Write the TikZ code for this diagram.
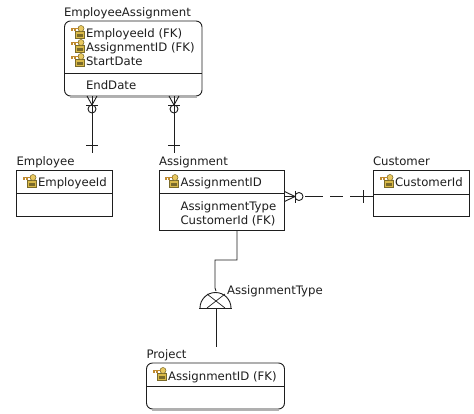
\documentclass[tikz,border=0pt]{standalone}
\usepackage{fontspec}
\setmainfont{DejaVu Sans}
\usetikzlibrary{calc}
\definecolor{ink}{HTML}{1E1E1E}
\definecolor{keygold}{HTML}{D9B948}
\definecolor{keydark}{HTML}{7A6A2A}
\definecolor{keylight}{HTML}{E8C860}
\definecolor{keyred}{HTML}{C08A30}
\tikzset{
  x=1pt,y=-1pt,
  every node/.style={font=\fontsize{11.7}{13}\selectfont,text=ink,inner sep=0pt,outer sep=0pt},
  line/.style={draw=ink,line width=0.9pt},
  entity/.style={line,anchor=north west},
  square/.style={entity},
  round/.style={entity,rounded corners=6pt},
  title/.style={anchor=base west},
  attr/.style={anchor=base west},
  keyicon/.pic={
    \fill[keygold,draw=keydark,line width=0.5pt] (-3,0) rectangle (6,7);
    \fill[keydark] (-1,2.5) rectangle (4.5,5);
    \draw[keydark,line width=0.5pt,fill=keylight] (3,-3) circle (3);
    \draw[keyred,line width=1.8pt] (0.5,-3) -- (-6,-3) -- (-6,-0.5) (-3,-3)--(-3,-0.5);
  },
}
\newcommand{\entitybox}[7]{% name, style, x1,y1,x2,y2,divider y
  \node[#2,minimum width=#5-#3,minimum height=#6-#4] (#1) at (#3,#4) {};
  \coordinate (#1dl) at (#3,#7);
  \coordinate (#1dr) at (#5,#7);
  \draw[line] (#1dl) -- (#1dr);
}
\begin{document}
\begin{tikzpicture}
\useasboundingbox[fill=white] (0,0) rectangle (474,413);

% shadows of the rounded boxes
\draw[gray!60,line width=1pt] (70,97) -- (197,97);
\draw[gray!60,line width=1pt] (152,410) -- (279,410);

\entitybox{ea}{round}{64.5}{21}{202}{96}{73}
\entitybox{emp}{square}{16.5}{170}{112}{216}{193.5}
\entitybox{asg}{square}{159}{170}{284.5}{230.5}{193.5}
\entitybox{cus}{square}{373}{170}{469}{216}{194}
\entitybox{prj}{round}{146.5}{363}{284.5}{409}{386}

% titles
\node[title] (tea) at (64,16) {EmployeeAssignment};
\node[title] (temp) at (16.5,165) {Employee};
\node[title] (tasg) at (159,165) {Assignment};
\node[title] (tcus) at (373,165) {Customer};
\node[title] (tprj) at (146.5,358.5) {Project};

% attributes
\pic at (78,31.5) {keyicon};
\node[attr] (a1) at (86,37) {EmployeeId (FK)};
\pic at (78,45.5) {keyicon};
\node[attr] (a2) at (86,51.5) {AssignmentID (FK)};
\pic at (78,59.5) {keyicon};
\node[attr] (a3) at (86,65.5) {StartDate};
\node[attr] (a4) at (86,89.5) {EndDate};

\pic at (30,180.5) {keyicon};
\node[attr] (b1) at (38,186.5) {EmployeeId};

\pic at (172,180.5) {keyicon};
\node[attr] (c1) at (180.5,186.5) {AssignmentID};
\node[attr] (c2) at (180.5,210) {AssignmentType};
\node[attr] (c3) at (180.5,224.5) {CustomerId (FK)};

\pic at (387,180.5) {keyicon};
\node[attr] (d1) at (395,186.5) {CustomerId};

\pic at (160,373.5) {keyicon};
\node[attr] (e1) at (168,380) {AssignmentID (FK)};

% EmployeeAssignment -- Employee
\coordinate (l1a) at (92,96);
\coordinate (l1b) at (92,153);
\coordinate (l1c) at (92,109);
\coordinate (l1x) at (92,145);
\draw[line] (l1a) -- (l1b);
\draw[line] ($(l1x)+(-6,0)$) -- ($(l1x)+(6,0)$);
\draw[line] (l1c) circle (4);
\draw[line] ($(l1a)+(-5,0)$) -- ($(l1c)+(0,-4)$) -- ($(l1a)+(5,0)$);
\draw[line] ($(l1c)+(-6,-4)$) -- ($(l1c)+(6,-4)$);

% EmployeeAssignment -- Assignment
\coordinate (l2a) at (174,96);
\coordinate (l2b) at (174,153);
\coordinate (l2c) at (174,109);
\coordinate (l2x) at (174,145);
\draw[line] (l2a) -- (l2b);
\draw[line] ($(l2x)+(-6,0)$) -- ($(l2x)+(6,0)$);
\draw[line] (l2c) circle (4);
\draw[line] ($(l2a)+(-5,0)$) -- ($(l2c)+(0,-4)$) -- ($(l2a)+(5,0)$);
\draw[line] ($(l2c)+(-6,-4)$) -- ($(l2c)+(6,-4)$);

% Assignment -- Customer
\coordinate (l3a) at (284.5,196.5);
\coordinate (l3c) at (299,196.5);
\coordinate (l3b) at (373,196.5);
\coordinate (l3x) at (363,196.5);
\draw[line] (l3c) circle (4);
\draw[line] ($(l3a)+(0,-5)$) -- ($(l3c)+(-4,0)$) -- ($(l3a)+(0,5)$);
\draw[line] ($(l3c)+(-4,-6)$) -- ($(l3c)+(-4,6)$);
\draw[line] (l3a) -- ($(l3c)+(-4,0)$);
\draw[line] (305,196.5) -- (323,196.5);
\draw[line] (330,196.5) -- (343,196.5);
\draw[line] (350,196.5) -- (l3b);
\draw[line] ($(l3x)+(0,-6.5)$) -- ($(l3x)+(0,6.5)$);

% Category symbol
\coordinate (cat) at (216,308);
\coordinate (asgout) at (237,230.5);
\draw[line] (asgout) -- (237,260) -- (215,260) -- (215,288) -- (216,291);
\draw[line] (199,308) -- (232,308);
\draw[line] (200,308) arc[start angle=180,end angle=360,radius=15.5];
\draw[line,line width=0.7pt] (207,294) -- (225,308) (225,294) -- (207,308);
\draw[line] (cat) -- (216,347);
\node[attr] (cl) at (227,294.5) {AssignmentType};
\end{tikzpicture}
\end{document}
